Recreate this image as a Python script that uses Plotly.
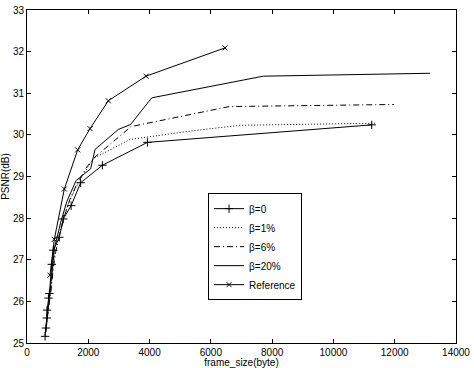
import plotly.graph_objects as go

# ---- data ----
b0_x = [590, 620, 645, 655, 700, 730, 810, 860, 1055, 1185, 1440, 1750, 2460, 3930, 11250]
b0_y = [25.16, 25.36, 25.60, 25.79, 26.08, 26.19, 26.89, 27.23, 27.54, 27.98, 28.30, 28.85, 29.27, 29.82, 30.24]

b1_x = [640, 700, 760, 830, 900, 1000, 1150, 1350, 1600, 1800, 2160, 3360, 5320, 6950, 11360]
b1_y = [25.5, 25.8, 26.2, 26.7, 27.1, 27.45, 27.9, 28.35, 28.75, 29.0, 29.43, 29.89, 30.09, 30.23, 30.28]

b6_x = [660, 720, 790, 860, 940, 1050, 1200, 1400, 1650, 1950, 2220, 3400, 6600, 11980]
b6_y = [25.6, 25.9, 26.3, 26.8, 27.2, 27.55, 28.0, 28.45, 28.85, 29.23, 29.47, 30.2, 30.68, 30.73]

b20_x = [620, 700, 800, 900, 1100, 1300, 1600, 1850, 2080, 2220, 2980, 3380, 4070, 7710, 13150]
b20_y = [25.3, 25.9, 26.7, 27.3, 27.9, 28.4, 28.9, 29.05, 29.19, 29.65, 30.13, 30.25, 30.89, 31.41, 31.48]

ref_x = [751, 891, 1218, 1654, 2056, 2654, 3884, 6462]
ref_y = [26.63, 27.49, 28.70, 29.64, 30.15, 30.82, 31.41, 32.09]

x_ticks = [0, 2000, 4000, 6000, 8000, 10000, 12000, 14000]
y_ticks = [25, 26, 27, 28, 29, 30, 31, 32, 33]

fig = go.Figure()
lw = 1
fig.add_trace(go.Scatter(x=b0_x, y=b0_y, name="β=0", mode="lines+markers",
                         line=dict(color="black", width=lw),
                         marker=dict(symbol="cross-thin", size=6, line=dict(width=1, color="black"))))
fig.add_trace(go.Scatter(x=b1_x, y=b1_y, name="β=1%", mode="lines",
                         line=dict(color="black", width=lw, dash="1px,2px")))
fig.add_trace(go.Scatter(x=b6_x, y=b6_y, name="β=6%", mode="lines",
                         line=dict(color="black", width=lw, dash="6px,3px,1px,3px")))
fig.add_trace(go.Scatter(x=b20_x, y=b20_y, name="β=20%", mode="lines",
                         line=dict(color="black", width=lw)))
fig.add_trace(go.Scatter(x=ref_x, y=ref_y, name="Reference", mode="lines+markers",
                         line=dict(color="black", width=lw),
                         marker=dict(symbol="x-thin", size=5, line=dict(width=1, color="black"))))

axis_common = dict(showgrid=False, zeroline=False, showline=True, linecolor="black",
                   linewidth=1, mirror="ticks", ticks="inside", ticklen=4,
                   tickcolor="black", tickfont=dict(size=10, color="black"),
                   automargin=False)

fig.update_layout(
    width=474, height=368,
    margin=dict(l=27, r=18, t=10, b=25),
    paper_bgcolor="white", plot_bgcolor="white",
    font=dict(family="Liberation Sans, Arial, sans-serif", color="black", size=10),
    xaxis=dict(range=[0, 14000], tickvals=x_ticks, ticktext=[str(v) for v in x_ticks],
               title=dict(text="frame_size(byte)", font=dict(size=10), standoff=0),
               **axis_common),
    yaxis=dict(range=[25, 33], tickvals=y_ticks, ticktext=[str(v) for v in y_ticks],
               title=dict(text="PSNR(dB)", font=dict(size=10), standoff=2),
               **axis_common),
    legend=dict(x=0.422, y=0.45, xanchor="left", yanchor="top",
                bordercolor="black", borderwidth=1, bgcolor="white",
                font=dict(size=10), tracegroupgap=0, itemwidth=30),
    showlegend=True,
)

fig.write_html("out.html")
